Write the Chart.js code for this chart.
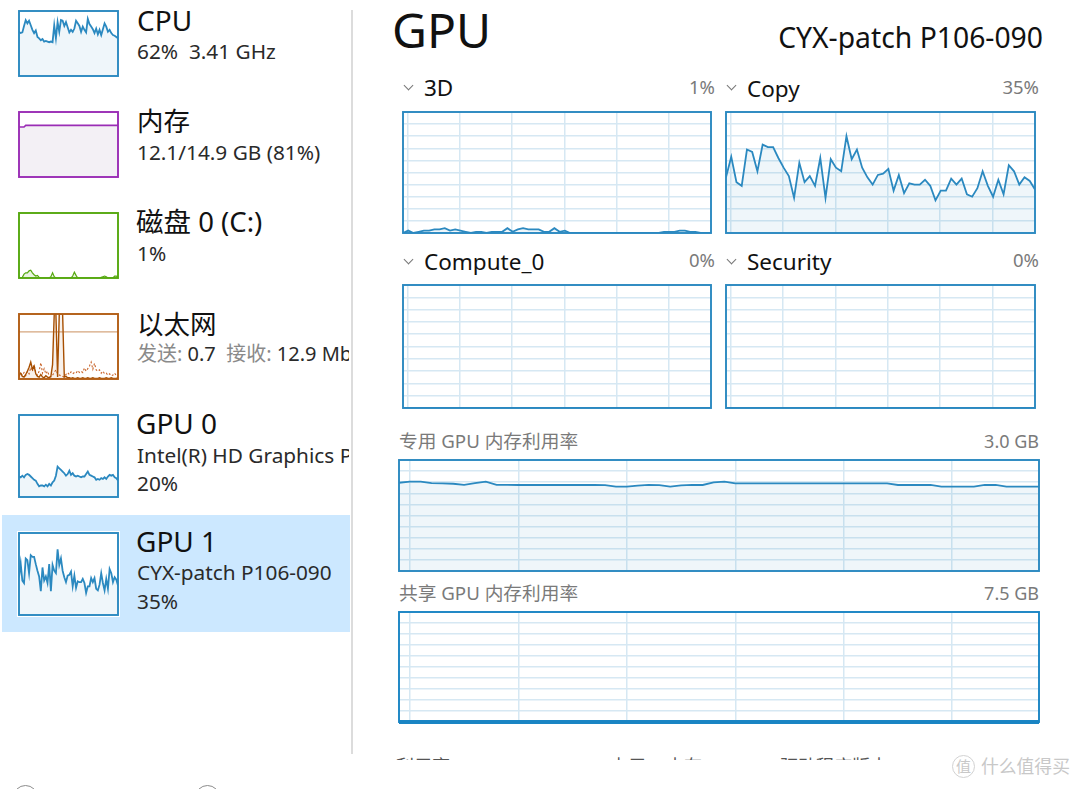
<!DOCTYPE html>
<html>
<head>
<meta charset="utf-8">
<script src="https://cdn.jsdelivr.net/npm/chart.js@4/dist/chart.umd.min.js"></script>
<style>
  html, body { margin: 0; padding: 0; background: #fff; }
  #page { position: relative; width: 1080px; height: 789px; overflow: hidden; font-family: "Noto Sans", "Noto Sans CJK SC", sans-serif; }
  #page canvas { position: absolute; background: #fff; }
  .t { position: absolute; white-space: nowrap; line-height: 1; transform: translateY(-50%); }
  .clip { position: absolute; overflow: hidden; }
</style>
</head>
<body>
<div id="page">
  <div style="position:absolute;left:2px;top:515px;width:348px;height:117px;background:#cce8ff"></div>
  <div style="position:absolute;left:351px;top:10px;width:1.5px;height:744px;background:#dcdcdc"></div>
  <div id="labels"></div>
</div>
<script>
// one value per second, 60 samples per graph
const cpuValues = [68,66,67,77,86,81,85,78,71,66,70,60,58,55,57,53,54,53,52,53,52,78,58,83,68,86,85,77,83,75,67,71,68,73,85,81,77,68,76,71,67,88,80,76,72,66,73,64,71,63,72,81,76,68,71,66,63,62,60,58];
const memoryValues = [77,77,77,77,79.5,79.5,79.5,79.5,79.5,79.5,79.5,79.5,79.5,79.5,79.5,79.5,79.5,79.5,79.5,79.5,79.5,79.5,79.5,79.5,79.5,79.5,79.5,79.5,79.5,79.5,79.5,79.5,79.5,79.5,79.5,79.5,79.5,79.5,79.5,79.5,79.5,79.5,79.5,79.5,79.5,79.5,79.5,79.5,79.5,79.5,79.5,79.5,79.5,79.5,79.5,79.5,79.5,79.5,79.5,79.5];
const diskValues = [0,0,1,6,8,8,11,12,8,5,3,4,1,0,0,0,0,0,0,2,8,2,0,0,0,0,0,0,0,0,0,0,3,9,4,0,0,0,0,0,0,0,0,0,0,0,0,0,0,1,2,3,2,0,0,0,0,3,3,1];
const ethReceive = [6,9,4,3,7,12,18,26,15,20,8,4,3,7,3,2,5,3,2,4,22,100,100,3,100,100,100,3,4,2,2,1,2,1,1,2,1,1,2,1,1,2,1,1,2,1,1,1,2,1,1,1,2,1,1,2,1,1,1,2];
const ethSend = [4,9,6,10,5,12,8,18,12,22,10,6,12,25,9,16,8,12,5,3,6,10,14,8,6,5,4,3,7,10,7,11,8,10,9,13,10,12,10,17,12,16,20,26,15,24,14,12,14,9,12,8,9,6,8,5,6,9,5,5];
const ethScale = [72.5,72.5,72.5,72.5,72.5,72.5,72.5,72.5,72.5,72.5,72.5,72.5,72.5,72.5,72.5,72.5,72.5,72.5,72.5,72.5,72.5,72.5,72.5,72.5,72.5,72.5,72.5,72.5,72.5,72.5,72.5,72.5,72.5,72.5,72.5,72.5,72.5,72.5,72.5,72.5,72.5,72.5,72.5,72.5,72.5,72.5,72.5,72.5,72.5,72.5,72.5,72.5,72.5,72.5,72.5,72.5,72.5,72.5,72.5,72.5];
const gpu0Values = [25,24,26,24,27,28,27,25,23,21,20,16,13,14,14,13,15,13,16,14,18,20,26,37,35,33,31,29,26,28,32,27,29,26,25,26,25,24,25,25,28,31,27,26,25,24,21,22,21,23,22,24,22,25,27,26,27,24,23,20];
const copyValues = [46,63,42,39,69,67,51,73,71,71,62,54,47,29,58,42,47,39,62,29,61,54,51,80,61,69,54,46,40,48,49,53,35,48,33,41,40,40,44,39,27,35,35,45,40,45,32,30,37,51,39,30,44,32,56,51,40,46,43,36];
const threeDValues = [0,2,0,1,2,2,3,3,4,2,3,2,1,0,1,1,0,1,1,1,4,1,3,4,3,3,3,1,1,4,1,2,0,0,0,0,0,0,0,0,0,0,0,0,0,0,0,0,0,0,1,1,1,2,2,1,1,0,0,0];
const idleValues = [0,0,0,0,0,0,0,0,0,0,0,0,0,0,0,0,0,0,0,0,0,0,0,0,0,0,0,0,0,0,0,0,0,0,0,0,0,0,0,0,0,0,0,0,0,0,0,0,0,0,0,0,0,0,0,0,0,0,0,0];
const dedicatedValues = [79.5,80.5,80.5,79.2,79,78.6,77.6,79.2,80.5,77.6,77.5,77.5,77.5,77.5,77.5,77.5,77.5,77.5,77.5,77.4,76,76,77,77.5,77.4,76,77.2,77.5,77.5,79.8,80.5,79,79,79,79,79,79,79,79,79,79,79,79,79,79,79,77.5,77.5,77.5,77.5,76,76,76,76,77.5,77.5,76,76,76,76];

const sampleIndex = [0,1,2,3,4,5,6,7,8,9,10,11,12,13,14,15,16,17,18,19,20,21,22,23,24,25,26,27,28,29,30,31,32,33,34,35,36,37,38,39,40,41,42,43,44,45,46,47,48,49,50,51,52,53,54,55,56,57,58,59];
const gridSmall = [0.9,10.9,20.9,30.9,40.9,50.9];
const gridWide = [1,11,21,31,41,51];

const BLUE = '#2b89c0';
const BLUE_FILL = 'rgba(17,125,187,0.065)';

const frame = {
  id: 'frame',
  afterDraw(chart, args, opts) {
    const a = chart.chartArea, c = chart.ctx;
    c.save();
    c.strokeStyle = opts.color;
    c.lineWidth = 1.9;
    c.strokeRect(a.left, a.top, a.right - a.left, a.bottom - a.top);
    c.restore();
  }
};

function graph(left, top, right, bottom, color, sets, gridX) {
  const cv = document.createElement('canvas');
  cv.width = right - left + 4;
  cv.height = bottom - top + 4;
  cv.style.left = (left - 2) + 'px';
  cv.style.top = (top - 2) + 'px';
  document.getElementById('page').appendChild(cv);
  const hasGrid = gridX.length > 0;
  new Chart(cv.getContext('2d'), {
    type: 'line',
    data: { labels: sampleIndex, datasets: sets },
    options: {
      responsive: false,
      animation: false,
      devicePixelRatio: 1,
      layout: { padding: 2 },
      elements: { point: { radius: 0 }, line: { tension: 0 } },
      plugins: { legend: { display: false }, tooltip: { enabled: false }, frame: { color: color } },
      scales: {
        x: {
          type: 'linear', min: 0, max: 59,
          border: { display: false },
          grid: { display: hasGrid, color: '#d6e8f3', lineWidth: 1.5, drawTicks: false },
          ticks: { display: false, autoSkip: false },
          afterBuildTicks: s => { s.ticks = gridX.map(v => ({ value: v })); }
        },
        y: {
          min: 0, max: 100,
          border: { display: false },
          grid: { display: hasGrid, color: '#d6e8f3', lineWidth: 1.5, drawTicks: false },
          ticks: { display: false, stepSize: 10 }
        }
      }
    },
    plugins: [frame]
  });
}

function xy(values) { return values.map((v, i) => ({ x: sampleIndex[i], y: v })); }

function blueSet(values, width) {
  return { data: xy(values), borderColor: BLUE, borderWidth: width || 1.8, fill: 'origin', backgroundColor: BLUE_FILL };
}

// side list
graph(19, 11, 118, 76, BLUE, [blueSet(cpuValues)], []);
graph(19, 112, 118, 177, '#9a2db5', [{ data: xy(memoryValues), borderColor: '#9a2db5', borderWidth: 1.6, fill: 'origin', backgroundColor: '#f3f0f5' }], []);
graph(19, 213, 118, 278, '#55a80f', [{ data: xy(diskValues), borderColor: '#55a80f', borderWidth: 1.2, fill: 'origin', backgroundColor: 'rgba(77,166,12,0.12)' }], []);
graph(19, 314, 118, 379, '#b25d14', [
  { data: xy(ethScale), borderColor: 'rgba(178,93,20,0.55)', borderWidth: 1.2 },
  { data: xy(ethReceive), borderColor: '#a74f01', borderWidth: 1.4, fill: 'origin', backgroundColor: 'rgba(167,79,1,0.08)' },
  { data: xy(ethSend), borderColor: '#c8642a', borderWidth: 1.1, borderDash: [2, 2] }
], []);
graph(19, 415, 118, 497, BLUE, [blueSet(gpu0Values)], []);
graph(19, 533, 118, 615, BLUE, [blueSet(copyValues)], []);

// engine graphs
graph(403, 112, 711, 233, BLUE, [blueSet(threeDValues)], gridSmall);
graph(726, 112, 1035, 233, BLUE, [blueSet(copyValues)], gridSmall);
graph(403, 285, 711, 408, BLUE, [blueSet(idleValues)], gridSmall);
graph(726, 285, 1035, 408, BLUE, [blueSet(idleValues)], gridSmall);

// gpu memory graphs
graph(399, 460, 1039, 571, BLUE, [blueSet(dedicatedValues)], gridWide);
graph(399, 612, 1039, 722, '#1a85c4', [Object.assign(blueSet(idleValues, 4), { borderColor: '#1a85c4', clip: false })], gridWide);

// text
const BLACK = '#111', SUB = '#2a2a2a', GREY = '#7a7a7a';
const box = document.getElementById('labels');

function text(str, x, y, size, color, alignRight) {
  const d = document.createElement('div');
  d.className = 't';
  d.textContent = str;
  d.style.top = y + 'px';
  d.style.fontSize = size + 'px';
  d.style.color = color;
  if (alignRight) d.style.right = (1080 - x) + 'px'; else d.style.left = x + 'px';
  box.appendChild(d);
  return d;
}

text('CPU', 137, 20, 28, BLACK);
text('62%  3.41 GHz', 137, 51, 20.8, SUB).style.whiteSpace = 'pre';
text('内存', 137, 121, 26.5, BLACK);
text('12.1/14.9 GB (81%)', 137, 152, 20.8, SUB);
text('磁盘 0 (C:)', 136, 222, 27.5, BLACK);
text('1%', 137, 253, 20.8, SUB);
text('以太网', 137, 324, 26.5, BLACK);
text('GPU 0', 136, 423, 28, BLACK);
text('20%', 137, 483, 20.8, SUB);
text('GPU 1', 136, 541, 28, BLACK);
text('CYX-patch P106-090', 137, 572, 20.8, SUB);
text('35%', 137, 601, 20.8, SUB);

// these two run past the edge of the list
const clipSide = document.createElement('div');
clipSide.className = 'clip';
clipSide.style.cssText = 'left:0;top:340px;width:349px;height:135px;';
box.appendChild(clipSide);
const ethLine = text('', 137, 14, 20, SUB);
ethLine.innerHTML = '<span style="color:#8a8a8a">发送:</span> 0.7  <span style="color:#8a8a8a">接收:</span> 12.9 Mbps';
ethLine.style.whiteSpace = 'pre';
clipSide.appendChild(ethLine);
clipSide.appendChild(text('Intel(R) HD Graphics P630', 137, 115, 20.8, SUB));

text('GPU', 392, 30, 48, BLACK);
text('CYX-patch P106-090', 1043, 37, 28.3, BLACK, true);
text('3D', 424, 88, 22.5, BLACK);
text('1%', 715, 87, 18.5, GREY, true);
text('Copy', 747, 89, 22.5, BLACK);
text('35%', 1039, 87, 18.5, GREY, true);
text('Compute_0', 424, 262, 22.5, BLACK);
text('0%', 715, 260, 18.5, GREY, true);
text('Security', 747, 262, 22.5, BLACK);
text('0%', 1039, 260, 18.5, GREY, true);
text('专用 GPU 内存利用率', 399, 441, 18.7, GREY);
text('3.0 GB', 1039, 441, 18, GREY, true);
text('共享 GPU 内存利用率', 399, 593, 18.7, GREY);
text('7.5 GB', 1039, 593, 18, GREY, true);

// chevrons next to the engine names
[[403, 85], [726, 85], [403, 259], [726, 259]].forEach(p => {
  const s = document.createElement('div');
  s.style.cssText = 'position:absolute;left:' + (p[0] + 2) + 'px;top:' + (p[1] - 3) + 'px;width:6px;height:6px;border-right:1.2px solid #777;border-bottom:1.2px solid #777;transform:rotate(45deg);';
  box.appendChild(s);
});

// stats row, cut by the crop of the screenshot
const cut = document.createElement('div');
cut.className = 'clip';
cut.style.cssText = 'left:380px;top:740px;width:560px;height:20px;';
box.appendChild(cut);
[['利用率', 16], ['占用', 230], ['内存', 286], ['驱动程序版本:', 400]].forEach(r => {
  cut.appendChild(text(r[0], r[1], 26, 18, '#555'));
});

// round buttons at the bottom edge
[25, 207].forEach(x => {
  const b = document.createElement('div');
  b.style.cssText = 'position:absolute;left:' + (x - 12) + 'px;top:785px;width:23px;height:23px;border:1.5px solid #8c8c8c;border-radius:50%;';
  box.appendChild(b);
});

// watermark
const seal = document.createElement('div');
seal.style.cssText = 'position:absolute;left:952px;top:755px;width:21px;height:21px;border:1.5px solid #d2d2d2;border-radius:50%;color:#c8c8c8;font-size:15px;line-height:21px;text-align:center;';
seal.textContent = '值';
box.appendChild(seal);
text('什么值得买', 981, 767, 17.8, '#c8c8c8');
</script>
</body>
</html>
